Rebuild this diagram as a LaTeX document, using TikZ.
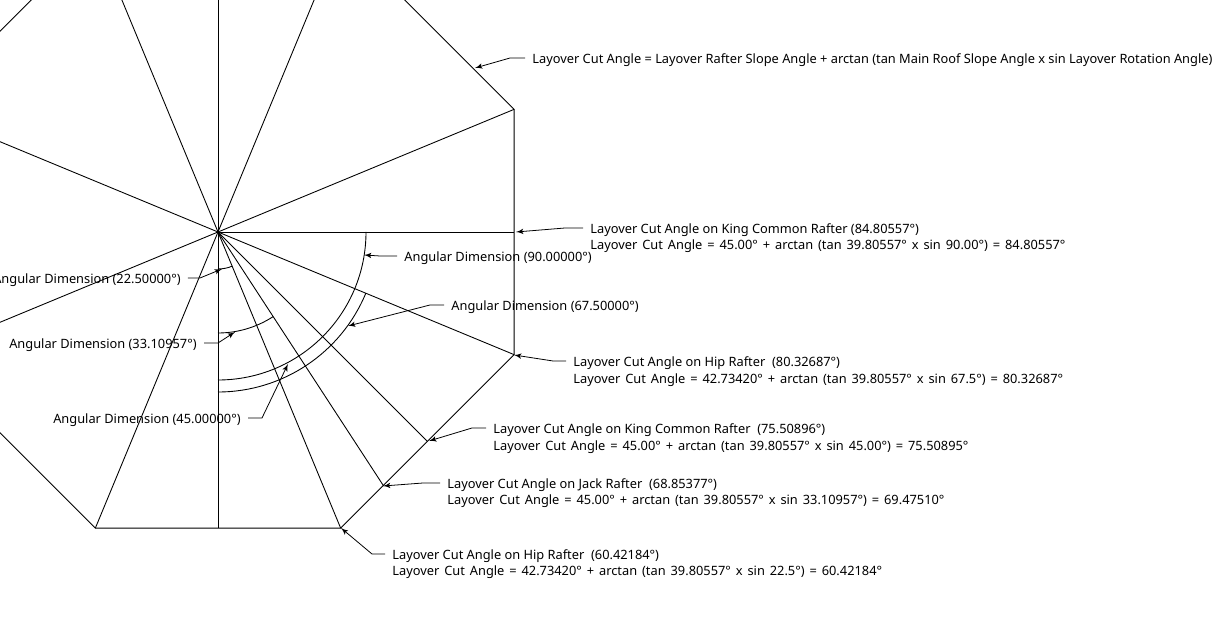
\documentclass[tikz,border=0pt]{standalone}
\usepackage{fontspec}
\setmainfont{Noto Sans}
\usetikzlibrary{arrows}
\newcommand{\widespaces}{\spaceskip 2.8pt\relax}
\tikzset{label/.style = {inner xsep=4pt, inner ysep=0pt, text height=5.8pt, text depth=0pt, font=\fontsize{7.3}{8}\selectfont},
         formula/.style = {label, font=\fontsize{7.3}{8}\selectfont\widespaces},
         leader/.style = {-latex', line width=0.45pt},
         rafter/.style = {line width=0.5pt}}

\begin{document}
\begin{tikzpicture}[x=0.02cm, y=0.02cm]
    \clip (-218, -392) rectangle (1012, 232);
    \coordinate (ridge) at (0, 0);
    % rafters and outline
    \foreach \ang in {-157.5, -112.5, -67.5, -22.5, 22.5, 67.5, 112.5, 157.5}
      \draw [rafter] (ridge) -- (\ang:320.5);
    \foreach \ang in {-90, -45, 0, 90}
      \draw [rafter] (ridge) -- (\ang:296);
    \draw [rafter] (ridge) -- (-56.89:303.2);
    \draw [rafter] (-157.5:320.5) -- (-112.5:320.5) -- (-67.5:320.5) -- (-22.5:320.5) -- (22.5:320.5) -- (67.5:320.5) -- (112.5:320.5) -- (157.5:320.5);
    % angular dimensions
    \draw [rafter] (0:148) arc [start angle=0, end angle=-90, radius=148];
    \draw [rafter] (-22.5:160) arc [start angle=-22.5, end angle=-90, radius=160];
    \draw [rafter] (-56.89:101) arc [start angle=-56.89, end angle=-90, radius=101];
    \draw [rafter] (-67.5:37) arc [start angle=-67.5, end angle=-90, radius=37];

    \node [label, anchor=west] (rule) at (307, 174) {Layover Cut Angle = Layover Rafter Slope Angle + arctan (tan Main Roof Slope Angle x sin Layover Rotation Angle)};
    \node [label, anchor=west] (kingA) at (365, 4) {Layover Cut Angle on King Common Rafter (84.80557°)};
    \node [formula, anchor=west] (kingAeq) at (365, -12) {Layover Cut Angle = 45.00° + arctan (tan 39.80557° x sin 90.00°) = 84.80557°};
    \node [label, anchor=west] (hipA) at (348, -129) {Layover Cut Angle on Hip Rafter\ \ (80.32687°)};
    \node [formula, anchor=west] (hipAeq) at (348, -146) {Layover Cut Angle = 42.73420° + arctan (tan 39.80557° x sin 67.5°) = 80.32687°};
    \node [label, anchor=west] (kingB) at (268, -196) {Layover Cut Angle on King Common Rafter\ \ (75.50896°)};
    \node [formula, anchor=west] (kingBeq) at (268, -213) {Layover Cut Angle = 45.00° + arctan (tan 39.80557° x sin 45.00°) = 75.50895°};
    \node [label, anchor=west] (jack) at (222, -251) {Layover Cut Angle on Jack Rafter\ \ (68.85377°)};
    \node [formula, anchor=west] (jackeq) at (222, -267) {Layover Cut Angle = 45.00° + arctan (tan 39.80557° x sin 33.10957°) = 69.47510°};
    \node [label, anchor=west] (hipB) at (167, -322) {Layover Cut Angle on Hip Rafter\ \ (60.42184°)};
    \node [formula, anchor=west] (hipBeq) at (167, -338) {Layover Cut Angle = 42.73420° + arctan (tan 39.80557° x sin 22.5°) = 60.42184°};
    \node [label, anchor=west] (dimA) at (179, -24) {Angular Dimension (90.00000°)};
    \node [label, anchor=west] (dimB) at (226, -73) {Angular Dimension (67.50000°)};
    \node [label, anchor=east] (dimC) at (-30, -46) {Angular Dimension (22.50000°)};
    \node [label, anchor=east] (dimD) at (-14, -111) {Angular Dimension (33.10957°)};
    \node [label, anchor=east] (dimE) at (30, -186) {Angular Dimension (45.00000°)};

    \coordinate (ruleend) at (257, 164);
    \coordinate (kingAend) at (298, 0);
    \coordinate (hipAend) at (296, -123);
    \coordinate (kingBend) at (211, -209);
    \coordinate (jackend) at (165, -254);
    \coordinate (hipBend) at (123, -296);
    \coordinate (dimAend) at (146, -23);
    \coordinate (dimBend) at (130, -94);
    \coordinate (dimCend) at (4, -37);
    \coordinate (dimDend) at (17, -100);
    \coordinate (dimEend) at (70, -132);

    \draw [leader] (rule.west) -- ++(-15, 0) -- (ruleend);
    \draw [leader] (kingA.west) -- ++(-18, 0) -- (kingAend);
    \draw [leader] (hipA.west) -- ++(-13, 0) -- (hipAend);
    \draw [leader] (kingB.west) -- ++(-14, 0) -- (kingBend);
    \draw [leader] (jack.west) -- ++(-17, 0) -- (jackend);
    \draw [leader] (hipB.west) -- ++(-13, 0) -- (hipBend);
    \draw [leader] (dimA.west) -- ++(-17, 0) -- (dimAend);
    \draw [leader] (dimB.west) -- ++(-14, 0) -- (dimBend);
    \draw [leader] (dimC.east) -- ++(12, 0) -- (dimCend);
    \draw [leader] (dimD.east) -- ++(14, 0) -- (dimDend);
    \draw [leader] (dimE.east) -- ++(14, 0) -- (dimEend);
  \end{tikzpicture}
\end{document}
